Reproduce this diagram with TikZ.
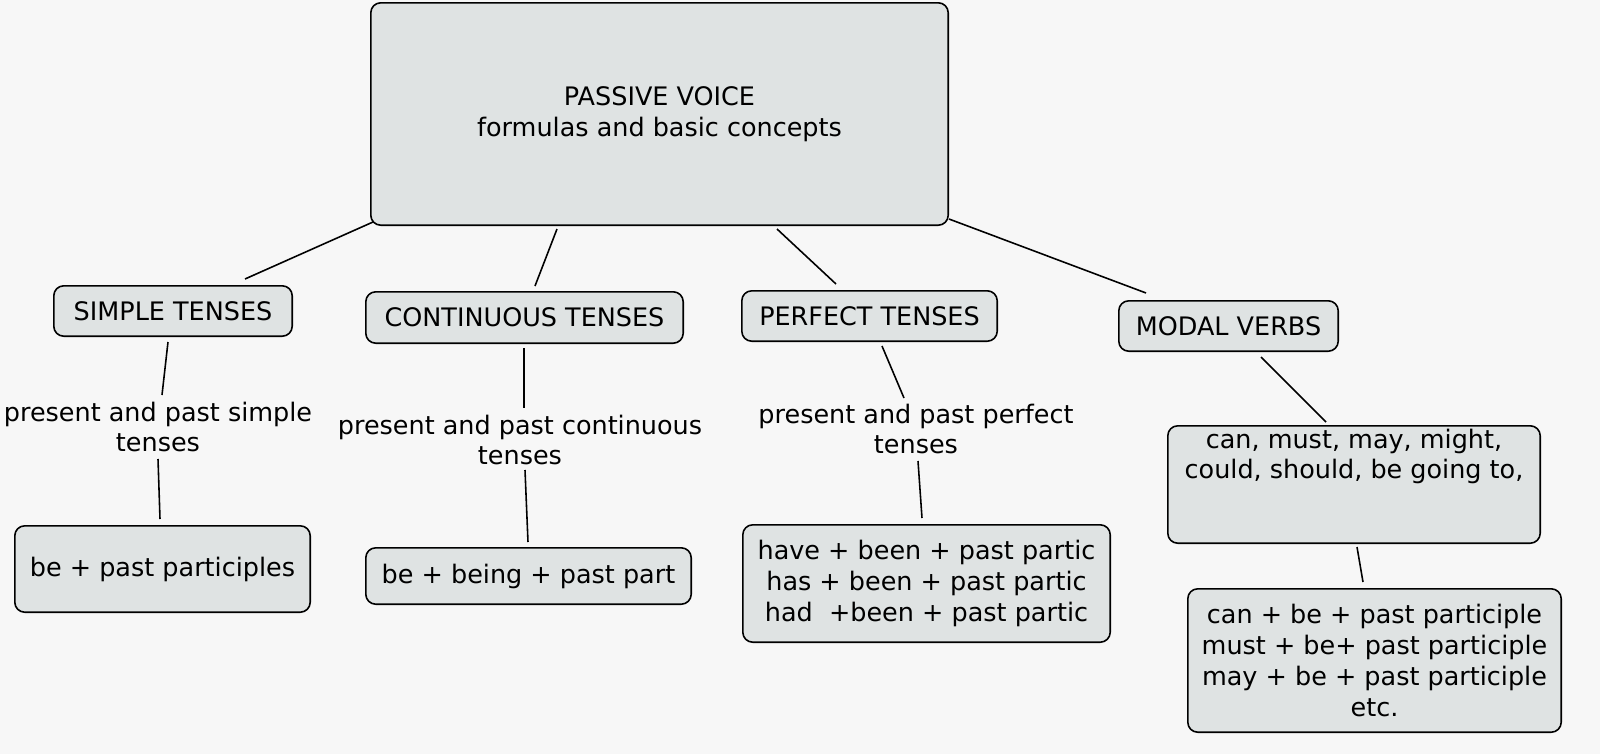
\documentclass[tikz,border=0pt]{standalone}
\usepackage{fontspec}
\setmainfont{DejaVu Sans}
\definecolor{boxfill}{HTML}{DFE3E3}
\definecolor{bg}{HTML}{F7F7F7}
\begin{document}
\begin{tikzpicture}[x=0.02cm,y=-0.02cm,
  box/.style={draw,fill=boxfill,rounded corners=0.2cm,line width=0.9pt,inner sep=0pt,font=\fontsize{14.5}{17.5}\selectfont,align=center},
  lbl/.style={font=\fontsize{14.5}{17.5}\selectfont,align=center},
  conn/.style={line width=0.9pt}]
\fill[bg] (0,0) rectangle (1600,754);
\useasboundingbox (0,0) rectangle (1600,754);
\newcommand\bx[6]{\node[box,minimum width=#4*0.02cm-0.9pt,minimum height=#5*0.02cm-0.9pt] (#1) at (#2,#3) {#6};}
\bx{root}{659.5}{114}{579}{224}{PASSIVE VOICE\\formulas and basic concepts}
\bx{simple}{173}{311}{240}{52}{SIMPLE TENSES}
\bx{cont}{524.5}{317.5}{319}{53}{CONTINUOUS TENSES}
\bx{perf}{869.5}{316}{257}{52}{PERFECT TENSES}
\bx{modal}{1228.5}{326}{221}{52}{MODAL VERBS}
\bx{bpp}{162.5}{569}{297}{88}{be + past participles}
\bx{bbp}{528.5}{576}{327}{58}{be + being + past part}
\bx{have}{926.5}{583.5}{369}{119}{have + been + past partic\\has + been + past partic\\had\ \ +been + past partic}
\bx{canm}{1354}{484.5}{374}{119}{can, must, may, might,\\could, should, be going to,\\[17.5pt]}
\bx{canb}{1374.5}{660.5}{375}{145}{can + be + past participle\\must + be+ past participle\\may + be + past participle\\etc.}
\node[lbl] (ls) at (158,427) {present and past simple\\tenses};
\node[lbl] (lc) at (520,440) {present and past continuous\\tenses};
\node[lbl] (lp) at (916,429) {present and past perfect\\tenses};
\coordinate (a1) at (373,222); \coordinate (a2) at (245,279);
\coordinate (b1) at (557,229); \coordinate (b2) at (535,286);
\coordinate (c1) at (777,229); \coordinate (c2) at (836,284);
\coordinate (d1) at (949,219); \coordinate (d2) at (1146,293);
\draw[conn] (a1) -- (a2); \draw[conn] (b1) -- (b2);
\draw[conn] (c1) -- (c2); \draw[conn] (d1) -- (d2);
\coordinate (e1) at (168,342); \coordinate (e2) at (162,395);
\coordinate (e3) at (158,459); \coordinate (e4) at (160,519);
\draw[conn] (e1) -- (e2); \draw[conn] (e3) -- (e4);
\coordinate (f1) at (524,348); \coordinate (f2) at (524,408);
\coordinate (f3) at (525,470); \coordinate (f4) at (528,542);
\draw[conn] (f1) -- (f2); \draw[conn] (f3) -- (f4);
\coordinate (g1) at (882,346); \coordinate (g2) at (904,398);
\coordinate (g3) at (918,461); \coordinate (g4) at (922,518);
\draw[conn] (g1) -- (g2); \draw[conn] (g3) -- (g4);
\coordinate (h1) at (1261,357); \coordinate (h2) at (1326,422);
\coordinate (h3) at (1357,547); \coordinate (h4) at (1363,582);
\draw[conn] (h1) -- (h2); \draw[conn] (h3) -- (h4);
\end{tikzpicture}
\end{document}
